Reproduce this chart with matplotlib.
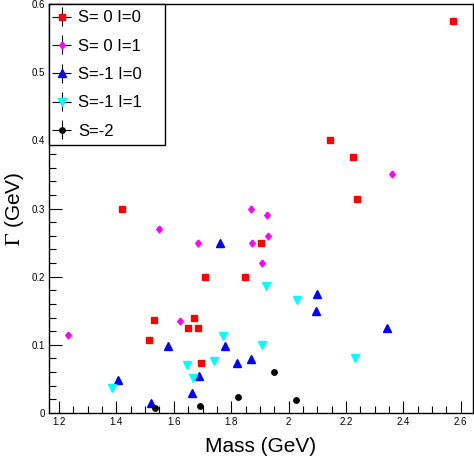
import matplotlib
matplotlib.use("Agg")
import matplotlib.pyplot as plt
from matplotlib.ticker import MultipleLocator, FuncFormatter
from matplotlib.legend_handler import HandlerErrorbar

plt.rcParams['font.family'] = ['Liberation Sans', 'DejaVu Sans']
plt.rcParams['mathtext.fontset'] = 'stix'

# S=0 I=0
m_s0i0 = [1.420, 1.512, 1.530, 1.649, 1.672, 1.686, 1.695, 1.709, 1.848, 1.905, 2.145, 2.224, 2.238, 2.574]
g_s0i0 = [0.300, 0.107, 0.137, 0.124, 0.140, 0.124, 0.074, 0.200, 0.200, 0.250, 0.400, 0.375, 0.314, 0.575]
# S=0 I=1
m_s0i1 = [1.231, 1.550, 1.620, 1.685, 1.868, 1.873, 1.909, 1.926, 1.928, 2.359]
g_s0i1 = [0.115, 0.270, 0.135, 0.249, 0.300, 0.249, 0.220, 0.290, 0.260, 0.350]
# S=-1 I=0
m_sm1i0 = [1.406, 1.520, 1.580, 1.665, 1.688, 1.760, 1.780, 1.820, 1.869, 2.094, 2.100, 2.344]
g_sm1i0 = [0.049, 0.015, 0.099, 0.030, 0.054, 0.249, 0.099, 0.074, 0.079, 0.149, 0.174, 0.124]
# S=-1 I=1
m_sm1i1 = [1.384, 1.645, 1.668, 1.740, 1.771, 1.907, 1.920, 2.028, 2.230]
g_sm1i1 = [0.037, 0.071, 0.051, 0.076, 0.113, 0.100, 0.186, 0.166, 0.080]
# S=-2
m_sm2 = [1.533, 1.690, 1.823, 1.950, 2.026]
g_sm2 = [0.008, 0.010, 0.024, 0.060, 0.019]

diamond = [(0, 1), (0.8, 0), (0, -1), (-0.8, 0), (0, 1)]

series = [
    (m_s0i0, g_s0i0, 'S= 0 I=0', 's', '#ff0000', 4.3),
    (m_s0i1, g_s0i1, 'S= 0 I=1', diamond, '#ff00ff', 5.0),
    (m_sm1i0, g_sm1i0, 'S=-1 I=0', '^', '#0000ff', 6.0),
    (m_sm1i1, g_sm1i1, 'S=-1 I=1', 'v', '#00ffff', 6.0),
    (m_sm2, g_sm2, 'S=-2', 'o', '#000000', 3.9),
]

fig = plt.figure(figsize=(4.74, 4.61), dpi=100)
ax = fig.add_axes([0.1034, 0.1041, 0.8946, 0.8872])

handles = []
for m, g, lab, mk, col, ms in series:
    h = ax.errorbar(m, g, xerr=[0] * len(m), yerr=[0] * len(g),
                    linestyle='none', marker=mk, ms=ms, mfc=col, mec=col,
                    ecolor='black', elinewidth=0.8, capsize=0, label=lab)
    handles.append(h)

ax.set_xlim(1.165, 2.643)
ax.set_ylim(0, 0.6)

ax.xaxis.set_major_locator(MultipleLocator(0.2))
ax.xaxis.set_minor_locator(MultipleLocator(0.05))
ax.yaxis.set_major_locator(MultipleLocator(0.1))
ax.yaxis.set_minor_locator(MultipleLocator(0.02))
fmt = FuncFormatter(lambda v, p: '%g' % round(v, 3))
ax.xaxis.set_major_formatter(fmt)
ax.yaxis.set_major_formatter(fmt)

ax.tick_params(which='both', direction='in', top=False, right=False,
               labelsize=7, width=0.8, colors='black')
ax.tick_params(which='major', length=9, pad=3)
ax.tick_params(which='minor', length=5)
for sp in ax.spines.values():
    sp.set_linewidth(1.0)

ax.set_xlabel('Mass (GeV)', fontsize=15, labelpad=7)
ax.set_ylabel(r'$\Gamma$ (GeV)', fontsize=15, labelpad=4)

leg_w = 116 / 424
leg = ax.legend(handles=handles, loc='upper left',
                bbox_to_anchor=(0, 0, leg_w, 1), mode='expand',
                borderaxespad=0, fontsize=12, numpoints=1, fancybox=False,
                frameon=True, edgecolor='black', framealpha=1,
                borderpad=0.38, handlelength=0.75, handletextpad=0.62,
                labelspacing=0.8,
                handler_map={type(handles[0]): HandlerErrorbar(xerr_size=0.57)})
leg.get_frame().set_linewidth(1.0)

fig.savefig('out.png', dpi=100)
